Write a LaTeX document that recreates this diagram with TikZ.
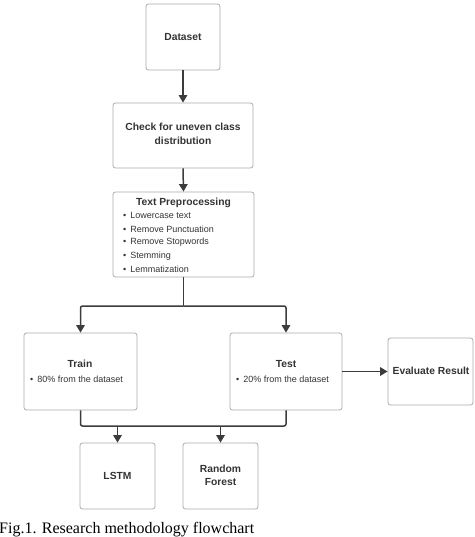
\documentclass[tikz,border=0pt]{standalone}
\usepackage{fontspec}
\setmainfont{Liberation Sans}
\newfontfamily\capfont{Liberation Serif}
\usetikzlibrary{arrows.meta}
\definecolor{boxline}{HTML}{ABABAB}
\definecolor{txt}{HTML}{333333}
\definecolor{conn}{HTML}{3C3C3C}
\tikzset{
  box/.style={draw=boxline, line width=0.8pt, rounded corners=2.5pt, inner sep=0pt},
  ttl/.style={font=\fontsize{10.3}{12}\selectfont\bfseries, text=txt, inner sep=0pt, align=center},
  itm/.style={font=\fontsize{9}{11}\selectfont, text=txt, inner sep=0pt, anchor=west},
  conline/.style={draw=conn, line width=1.5pt},
  arr/.style={conline, -{Triangle[width=8.5pt,length=7.5pt]}}
}
\begin{document}
\begin{tikzpicture}[x=1pt,y=-1pt]
\useasboundingbox (0,0) rectangle (474,537);
% boxes
\node[box, minimum width=74pt, minimum height=66pt] (ds) at (183,37) {};
\node[box, minimum width=140pt, minimum height=65pt] (chk) at (183,135.5) {};
\node[box, minimum width=141pt, minimum height=85pt] (tp) at (183.5,234.5) {};
\node[box, minimum width=113pt, minimum height=77pt] (train) at (80.5,371.5) {};
\node[box, minimum width=112pt, minimum height=77pt] (test) at (286,371.5) {};
\node[box, minimum width=85pt, minimum height=67pt] (ev) at (430.5,371.5) {};
\node[box, minimum width=75pt, minimum height=66pt] (lstm) at (117.5,476) {};
\node[box, minimum width=75pt, minimum height=66pt] (rf) at (220.5,476) {};
% texts
\node[ttl] (tds) at (ds.center) {Dataset};
\node[ttl] (tchk1) at (183,127) {Check for uneven class};
\node[ttl] (tchk2) at (183,141) {distribution};
\node[ttl] (ttp) at (183.5,203) {Text Preprocessing};
\node[itm] (i1) at (123,215) {•\, Lowercase text};
\node[itm] (i2) at (123,229) {•\, Remove Punctuation};
\node[itm] (i3) at (123,242) {•\, Remove Stopwords};
\node[itm] (i4) at (123,256) {•\, Stemming};
\node[itm] (i5) at (123,269) {•\, Lemmatization};
\node[ttl] (ttrain) at (80,364) {Train};
\node[itm] (itrain) at (30,379) {•\, 80\% from the dataset};
\node[ttl] (ttest) at (286,364) {Test};
\node[itm] (itest) at (236,379) {•\, 20\% from the dataset};
\node[ttl] (tev) at (431,371) {Evaluate Result};
\node[ttl] (tlstm) at (117.5,476) {LSTM};
\node[ttl] (trf) at (220.5,475) {Random\\[1pt]Forest};
% connectors
\coordinate (split) at (183.5,306);
\coordinate (jl) at (80.5,426);
\coordinate (jr) at (286,426);
\draw[arr] (ds.south) -- (chk.north);
\draw[arr] (chk.south) -- (tp.north);
\draw[conline] (tp.south) -- (split);
\draw[arr, rounded corners=2pt] (split) -| (train.north);
\draw[arr, rounded corners=2pt] (split) -| (test.north);
\draw[arr] (test.east) -- (ev.west);
\draw[conline, rounded corners=2pt] (train.south) -- (jl) -- (jr) -- (test.south);
\draw[arr] (lstm.north |- jl) -- (lstm.north);
\draw[arr] (rf.north |- jl) -- (rf.north);
% caption
\node[anchor=base west, inner sep=0pt, font=\capfont\fontsize{16}{18}\selectfont] (cap) at (-1,533) {Fig.1. Research methodology flowchart};
\end{tikzpicture}
\end{document}
